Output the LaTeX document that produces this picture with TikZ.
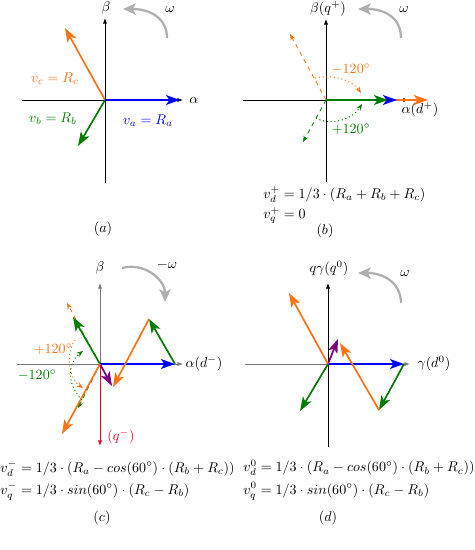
\documentclass[tikz,border=0pt]{standalone}
\usepackage{amsmath}
\usepackage{amsfonts}
\usetikzlibrary{arrows.meta}

\definecolor{vorange}{RGB}{250,115,20}
\definecolor{vgreen}{RGB}{0,125,0}
\definecolor{vblue}{RGB}{0,0,250}
\definecolor{vpurple}{RGB}{120,0,130}
\definecolor{vred}{RGB}{235,0,40}
\definecolor{rotgray}{RGB}{175,175,175}
\definecolor{axgray}{RGB}{120,120,120}

\begin{document}
\begin{tikzpicture}[x=0.025cm, y=-0.025cm,
	axis/.style={-{Latex[length=4pt,width=3pt]}, line width=0.6pt},
	vec/.style={-{Stealth[length=10pt,width=7pt,inset=2.5pt]}, line width=1.2pt},
	ghost/.style={-{Stealth[length=4.5pt,width=3.5pt]}, dashed, line width=0.6pt},
	turn/.style={-{Stealth[length=4.5pt,width=3.5pt]}, dotted, line width=0.7pt},
	rot/.style={-{Stealth[length=9pt,width=8pt,inset=2pt]}, line width=1.6pt, rotgray}]
	
	\useasboundingbox (0,0) rectangle (474,550);
	
	% (a)
	\coordinate (oa) at (105,100);
	\coordinate (axa) at (22,100);
	\coordinate (xa) at (183,100);
	\coordinate (aya) at (105,183);
	\coordinate (ya) at (105,18);
	\coordinate (ra) at (180,100);
	\coordinate (rb) at (78,146);
	\coordinate (rc) at (65,28);
	\coordinate (wa) at (167,38);
	\coordinate (wea) at (123,9);
	
	\path[axis] (axa) edge (xa);
	\path[axis] (aya) edge (ya);
	\path[vec, vorange] (oa) edge (rc);
	\path[vec, vgreen] (oa) edge (rb);
	\path[vec, vblue] (oa) edge (ra);
	\draw[rot] (wa) .. controls (167,18) and (150,9) .. (wea);
	
	\node (betaa) at (106,8) {$\beta$};
	\node (alphaa) at (194,100) {$\alpha$};
	\node (omegaa) at (170,9) {$\omega$};
	\node[text=vorange] (lc) at (55,79) {$v_c = R_c$};
	\node[text=vgreen] (lb) at (53,119) {$v_b = R_b$};
	\node[text=vblue] (la) at (148,121) {$v_a = R_a$};
	\node (capa) at (103,229) {$(a)$};
	
	% (b)
	\coordinate (ob) at (326,100);
	\coordinate (axb) at (243,100);
	\coordinate (xb) at (409,100);
	\coordinate (ayb) at (326,182);
	\coordinate (yb) at (326,19);
	\coordinate (pc) at (428,100);
	\coordinate (pa) at (397,100);
	\coordinate (pb) at (388,100);
	\coordinate (gc) at (290,34);
	\coordinate (gb) at (303,142);
	\coordinate (tc) at (315,78);
	\coordinate (tce) at (361,93);
	\coordinate (tb) at (316,118);
	\coordinate (tbe) at (362,104);
	\coordinate (wb) at (401,38);
	\coordinate (web) at (358,9);
	
	\path[axis] (axb) edge (xb);
	\path[axis] (ayb) edge (yb);
	\path[ghost, vorange] (ob) edge (gc);
	\path[ghost, vgreen] (ob) edge (gb);
	\path[vec, vorange] (ob) edge (pc);
	\path[vec, vblue] (ob) edge (pa);
	\path[vec, vgreen] (ob) edge (pb);
	\draw[turn, vorange] (tc) .. controls (333,74) and (352,80) .. (tce);
	\draw[turn, vgreen] (tb) .. controls (330,126) and (352,120) .. (tbe);
	\draw[rot] (wb) .. controls (401,18) and (385,9) .. (web);
	
	\node (betab) at (328,9) {$\beta(q^+)$};
	\node (alphab) at (420,110) {$\alpha(d^+)$};
	\node (omegab) at (404,9) {$\omega$};
	\node[text=vorange] (mb) at (351,69) {$-120^\circ$};
	\node[text=vgreen] (pbl) at (351,129) {$+120^\circ$};
	\node[anchor=west, align=left, inner sep=0pt] (eqb) at (263,205) {$v_d^+ = 1/3\cdot(R_a+R_b+R_c)$\\[2pt]$v_q^+ = 0$};
	\node (capb) at (325,231) {$(b)$};
	
	% (c)
	\coordinate (oc) at (100,364);
	\coordinate (axc) at (17,364);
	\coordinate (xc) at (183,364);
	\coordinate (yc) at (100,283);
	\coordinate (qc) at (100,446);
	\coordinate (nca) at (175,364);
	\coordinate (ncb) at (149,319);
	\coordinate (ncc) at (113,387);
	\coordinate (nm) at (112,386);
	\coordinate (nb) at (73,317);
	\coordinate (nc) at (62,434);
	\coordinate (hc) at (67,303);
	\coordinate (hb) at (78,408);
	\coordinate (sc) at (75,340);
	\coordinate (sce) at (83,388);
	\coordinate (sb) at (82,400);
	\coordinate (sbe) at (83,351);
	\coordinate (wc) at (122,268);
	\coordinate (wec) at (165,302);
	
	\path[axis, axgray] (axc) edge (xc);
	\path[axis, axgray] (oc) edge (yc);
	\path[axis, vred] (oc) edge (qc);
	\path[ghost, vorange] (oc) edge (hc);
	\path[ghost, vgreen] (oc) edge (hb);
	\path[vec, vblue] (oc) edge (nca);
	\path[vec, vgreen] (nca) edge (ncb);
	\path[vec, vorange] (ncb) edge (ncc);
	\path[vec, vpurple] (oc) edge (nm);
	\path[vec, vgreen] (oc) edge (nb);
	\path[vec, vorange] (oc) edge (nc);
	\draw[turn, vorange] (sc) .. controls (66,352) and (68,378) .. (sce);
	\draw[turn, vgreen] (sb) .. controls (66,384) and (68,362) .. (sbe);
	\draw[rot] (wc) .. controls (145,262) and (165,280) .. (wec);
	
	\node (betac) at (100,268) {$\beta$};
	\node (alphac) at (204,364) {$\alpha(d^-)$};
	\node (omegac) at (167,265) {$-\omega$};
	\node[text=vorange] (pcl) at (53,349) {$+120^\circ$};
	\node[text=vgreen] (mcl) at (37,375) {$-120^\circ$};
	\node[text=vred] (lq) at (121,437) {$(q^-)$};
	\node[anchor=west, inner sep=0pt] (eqc) at (0,480) {$\begin{aligned} v_d^- &= 1/3\cdot(R_a-cos(60^\circ)\cdot(R_b+R_c))\\ v_q^- &= 1/3\cdot sin(60^\circ)\cdot(R_c-R_b)\end{aligned}$};
	\node (capc) at (102,518) {$(c)$};
	
	% (d)
	\coordinate (od) at (328,364);
	\coordinate (axd) at (245,364);
	\coordinate (xd) at (410,364);
	\coordinate (ayd) at (328,447);
	\coordinate (yd) at (328,283);
	\coordinate (zda) at (404,364);
	\coordinate (zdb) at (379,410);
	\coordinate (zdc) at (340,343);
	\coordinate (zm) at (338,339);
	\coordinate (zc) at (289,293);
	\coordinate (zb) at (300,411);
	\coordinate (wd) at (401,303);
	\coordinate (wed) at (358,273);
	
	\path[axis, axgray] (axd) edge (xd);
	\path[axis] (ayd) edge (yd);
	\path[vec, vblue] (od) edge (zda);
	\path[vec, vgreen] (zda) edge (zdb);
	\path[vec, vorange] (zdb) edge (zdc);
	\path[vec, vpurple] (od) edge (zm);
	\path[vec, vorange] (od) edge (zc);
	\path[vec, vgreen] (od) edge (zb);
	\draw[rot] (wd) .. controls (401,284) and (385,273) .. (wed);
	
	\node (betad) at (329,269) {$q\gamma(q^0)$};
	\node (alphad) at (434,364) {$\gamma(d^0)$};
	\node (omegad) at (405,273) {$\omega$};
	\node[anchor=west, inner sep=0pt] (eqd) at (243,480) {$\begin{aligned} v_d^0 &= 1/3\cdot(R_a-cos(60^\circ)\cdot(R_b+R_c))\\ v_q^0 &= 1/3\cdot sin(60^\circ)\cdot(R_c-R_b)\end{aligned}$};
	\node (capd) at (328,518) {$(d)$};

\end{tikzpicture}
\end{document}
